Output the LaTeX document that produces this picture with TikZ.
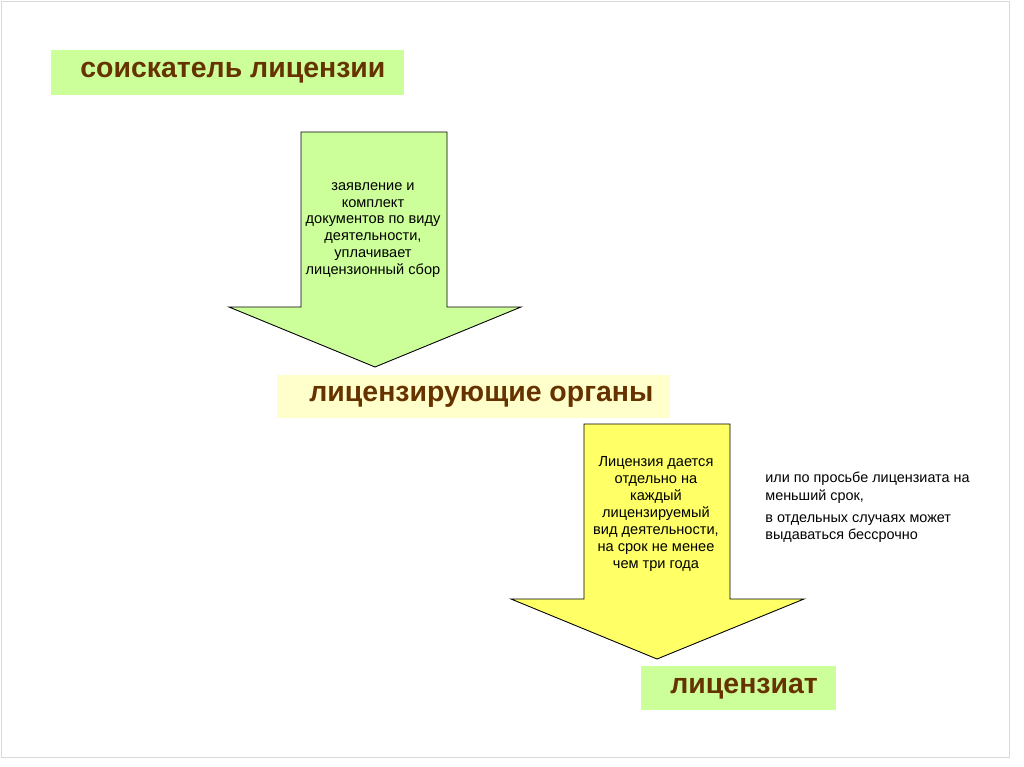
\documentclass[tikz,border=0pt]{standalone}
\usepackage{fontspec}
\setmainfont{Liberation Sans}
\definecolor{lgreen}{HTML}{CCFF99}
\definecolor{lyellow}{HTML}{FFFFCC}
\definecolor{ayellow}{HTML}{FFFF66}
\definecolor{tbrown}{HTML}{663300}
\tikzset{
  titlebox/.style={fill=#1, draw=none},
  titletext/.style={anchor=west, text=tbrown, font=\fontsize{16.2}{19}\selectfont\bfseries, inner sep=0pt},
  arrowshape/.style={fill=#1, draw=black, line width=0.5pt, line join=miter},
  arrowtext/.style={align=center, font=\fontsize{8.3}{9.6}\selectfont, inner sep=0pt},
  sidetext/.style={align=left, anchor=north west, font=\fontsize{8.2}{9.8}\selectfont, inner sep=0pt}
}
\begin{document}
\begin{tikzpicture}[x=0.02cm, y=-0.02cm]
\useasboundingbox (0,0) rectangle (1024,767);
\fill[white] (0,0) rectangle (1024,767);
\draw[black!15] (1,1) rectangle (1009,757);

% boxes
\fill[titlebox=lgreen] (51,50) rectangle (404,95);
\node[titletext] (seeker) at (80,73) {соискатель лицензии};

\fill[titlebox=lyellow] (277,375) rectangle (670,418);
\node[titletext] (organs) at (309,397) {лицензирующие органы};

\fill[titlebox=lgreen] (641,666) rectangle (836,710);
\node[titletext] (holder) at (670,689) {лицензиат};

% arrows
\draw[arrowshape=lgreen] (301,132) -- (447,132) -- (447,307) -- (521,307) -- (375,367)
  -- (229,307) -- (301,307) -- cycle;
\node[arrowtext] (apply) at (373,230) {заявление и\\комплект\\документов по виду\\деятельности,\\уплачивает\\лицензионный сбор};

\draw[arrowshape=ayellow] (584,424) -- (730,424) -- (730,599) -- (804,599) -- (657,659)
  -- (511,599) -- (584,599) -- cycle;
\node[arrowtext] (issue) at (656,514) {Лицензия дается\\отдельно на\\каждый\\лицензируемый\\вид деятельности,\\на срок не менее\\чем три года};

\node[sidetext] (note) at (765,472) {или по просьбе лицензиата на\\меньший срок,\\[3pt]в отдельных случаях может\\выдаваться бессрочно};
\end{tikzpicture}
\end{document}
